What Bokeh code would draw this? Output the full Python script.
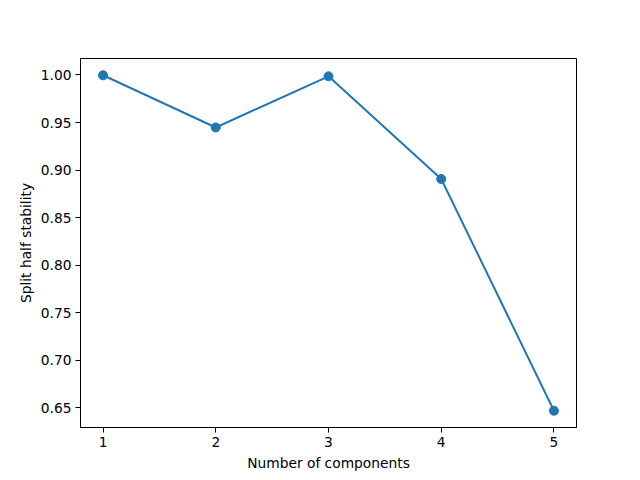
from bokeh.plotting import figure
from bokeh.models import FixedTicker, Range1d, NumeralTickFormatter
from bokeh.embed import file_html
from bokeh.resources import INLINE

components = [1, 2, 3, 4, 5]
stability = [0.9997, 0.9448, 0.9986, 0.8906, 0.6469]
x_ticks = [1, 2, 3, 4, 5]
y_ticks = [0.65, 0.70, 0.75, 0.80, 0.85, 0.90, 0.95, 1.00]

ymin, ymax = min(stability), max(stability)
pad = 0.05 * (ymax - ymin)

p = figure(width=640, height=480, output_backend="svg", toolbar_location=None,
           x_range=Range1d(0.8, 5.2), y_range=Range1d(ymin - pad, ymax + pad),
           min_border_left=80, min_border_right=64, min_border_top=58, min_border_bottom=53)
p.border_fill_color = "white"
p.background_fill_color = "white"
p.outline_line_color = "black"
p.outline_line_width = 1
p.xgrid.visible = False
p.ygrid.visible = False

color = "#1f77b4"
p.line(components, stability, line_color=color, line_width=2)
p.scatter(components, stability, size=9, fill_color=color, line_color=color)

font = "DejaVu Sans"
for ax in (p.xaxis[0], p.yaxis[0]):
    ax.axis_line_color = "black"
    ax.major_tick_line_color = "black"
    ax.major_tick_out = 5
    ax.major_tick_in = 0
    ax.minor_tick_line_color = None
    ax.major_label_text_font = font
    ax.major_label_text_font_size = "13.8px"
    ax.major_label_text_color = "black"
    ax.axis_label_text_font = font
    ax.axis_label_text_font_size = "13.8px"
    ax.axis_label_text_font_style = "normal"
    ax.axis_label_text_color = "black"
    ax.major_label_standoff = 4

p.xaxis.ticker = FixedTicker(ticks=x_ticks)
p.yaxis.ticker = FixedTicker(ticks=y_ticks)
p.yaxis.formatter = NumeralTickFormatter(format="0.00")
p.xaxis.axis_label = "Number of components"
p.yaxis.axis_label = "Split half stability"
p.xaxis.axis_label_standoff = 5
p.yaxis.axis_label_standoff = 4

open("out.html", "w").write(file_html(p, INLINE))
